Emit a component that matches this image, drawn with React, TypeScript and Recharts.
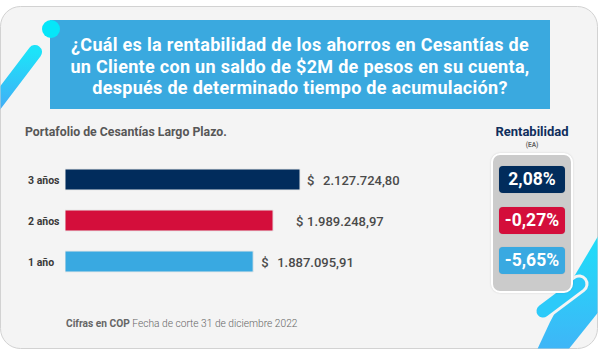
import React from 'react';
import { BarChart, Bar, XAxis, YAxis, Cell, LabelList } from 'recharts';

// datos del gráfico
const periodos = ['3 años', '2 años', '1 año'];
const saldos = [2127724.8, 1989248.97, 1887095.91];
const rentabilidad = [2.08, -0.27, -5.65];

const COLORS = ['#012c5c', '#d40e3b', '#39a9e1'];
// separación del "$" respecto a la barra y del número respecto al "$"
const LABEL_POS = [
  { dx: 7, gap: 16 },
  { dx: 23, gap: 11 },
  { dx: 8, gap: 16 },
];

const data = periodos.map((p, i) => ({ periodo: p, saldo: saldos[i] }));

const fmtCOP = (v: number) => {
  const [ent, dec] = v.toFixed(2).split('.');
  return ent.replace(/\B(?=(\d{3})+(?!\d))/g, '.') + ',' + dec;
};
const fmtPct = (v: number) => v.toFixed(2).replace('.', ',') + '%';

const TickLabel = (props: any) => {
  const { y, payload } = props;
  return (
    <text x={28} y={y} dy={4} fontSize={10.5} fontWeight={700} fill="#3a3a3a" textAnchor="start">
      {payload.value}
    </text>
  );
};

const ValueLabel = (props: any) => {
  const { x, y, width, height, value, index } = props;
  const pos = LABEL_POS[index] || LABEL_POS[0];
  const lx = x + width + pos.dx;
  const cy = y + height / 2 + 5;
  return (
    <g fontSize={13} fontWeight={500} fill="#4a4a4a">
      <text x={lx} y={cy}>$</text>
      <text x={lx + pos.gap} y={cy}>{fmtCOP(value)}</text>
    </g>
  );
};

export default function App() {
  return (
    <div style={{ position: 'fixed', left: 0, top: 0, width: 600, height: 350, background: '#fff', fontFamily: 'Roboto, sans-serif', overflow: 'hidden' }}>
      {/* fondo y decoraciones */}
      <svg width={600} height={350} style={{ position: 'absolute', left: 0, top: 0 }}>
        <defs>
          <clipPath id="card">
            <rect x={0.5} y={6.5} width={597} height={342} rx={20} />
          </clipPath>
          <linearGradient id="stripeL" x1="0" y1="0" x2="0" y2="1">
            <stop offset="0%" stopColor="#1de3f9" />
            <stop offset="100%" stopColor="#40b0f6" />
          </linearGradient>
          <linearGradient id="stripeR" x1="0" y1="0" x2="0" y2="1">
            <stop offset="0%" stopColor="#1ddff9" />
            <stop offset="100%" stopColor="#3fb5f7" />
          </linearGradient>
        </defs>
        <rect x={0.5} y={6.5} width={597} height={342} rx={20} fill="#f4f4f4" stroke="#d2d2d2" />
        <g clipPath="url(#card)">
          <line x1={35} y1={52} x2={-6} y2={106} stroke="url(#stripeL)" strokeWidth={14} strokeLinecap="round" />
          <polygon points="537,350 550,322 575,275 600,233 600,310 568,350" fill="url(#stripeR)" />
          <line x1={543} y1={311} x2={579} y2={284} stroke="#f4f4f4" strokeWidth={19} strokeLinecap="round" />
          <line x1={543} y1={311} x2={579} y2={284} stroke="#2ccaf9" strokeWidth={13} strokeLinecap="round" />
        </g>
      </svg>

      {/* título */}
      <div style={{ position: 'absolute', left: 50, top: 20, width: 500, height: 89, background: '#3aa9df', color: '#fff', fontWeight: 700, fontSize: 18, letterSpacing: 0.3, lineHeight: '21.5px', textAlign: 'center', display: 'flex', alignItems: 'center', justifyContent: 'center' }}>
        <div style={{ whiteSpace: 'nowrap', marginTop: 4 }}>
          ¿Cuál es la rentabilidad de los ahorros en Cesantías de<br />
          un Cliente con un saldo de $2M de pesos en su cuenta,<br />
          después de determinado tiempo de acumulación?
        </div>
      </div>
      <div style={{ position: 'absolute', left: 42, top: 20, width: 18, height: 18, borderRadius: 9, background: '#06e6f9' }} />

      {/* subtítulo */}
      <div style={{ position: 'absolute', left: 25, top: 125, fontSize: 12.3, fontWeight: 700, color: '#575757', whiteSpace: 'nowrap' }}>
        Portafolio de Cesantías Largo Plazo.
      </div>

      {/* barras */}
      <div style={{ position: 'absolute', left: 0, top: 0 }}>
        <BarChart width={600} height={350} data={data} layout="vertical" margin={{ top: 159, bottom: 68, left: 28, right: 180 }} barCategoryGap={0}>
          <XAxis type="number" domain={[920000, 2744393]} hide allowDataOverflow />
          <YAxis type="category" dataKey="periodo" width={37} axisLine={false} tickLine={false} tick={<TickLabel />} />
          <Bar dataKey="saldo" barSize={21} isAnimationActive={false} stroke="#e8e8e8" strokeWidth={1}>
            {data.map((d, i) => (
              <Cell key={d.periodo} fill={COLORS[i]} />
            ))}
            <LabelList dataKey="saldo" content={<ValueLabel />} />
          </Bar>
        </BarChart>
      </div>

      {/* rentabilidad */}
      <div style={{ position: 'absolute', left: 482, top: 124, width: 100, textAlign: 'center', color: '#0f2e5c', fontWeight: 700, fontSize: 13 }}>
        Rentabilidad
      </div>
      <div style={{ position: 'absolute', left: 482, top: 141, width: 100, textAlign: 'center', color: '#666', fontWeight: 700, fontSize: 6.5 }}>
        (EA)
      </div>
      <div style={{ position: 'absolute', left: 491, top: 153, width: 78, height: 136, background: '#cbcbcb', border: '2px solid #fff', borderRadius: 9, boxShadow: '0 0 2px rgba(0,0,0,0.15)' }}>
        {rentabilidad.map((r, i) => (
          <div key={i} style={{ position: 'absolute', left: 6, top: 11 + i * 40.5, width: 66, height: 27, borderRadius: 4, background: COLORS[i], color: '#fff', fontWeight: 700, fontSize: 17.5, lineHeight: '27px', textAlign: 'center', boxShadow: '0 0 1px rgba(0,0,0,0.2)' }}>
            {fmtPct(r)}
          </div>
        ))}
      </div>

      {/* pie */}
      <div style={{ position: 'absolute', left: 66, top: 318, fontSize: 10.2, color: '#666', whiteSpace: 'nowrap' }}>
        <span style={{ fontWeight: 700 }}>Cifras en COP</span>{' '}
        <span style={{ fontWeight: 300 }}>Fecha de corte 31 de diciembre 2022</span>
      </div>
    </div>
  );
}
